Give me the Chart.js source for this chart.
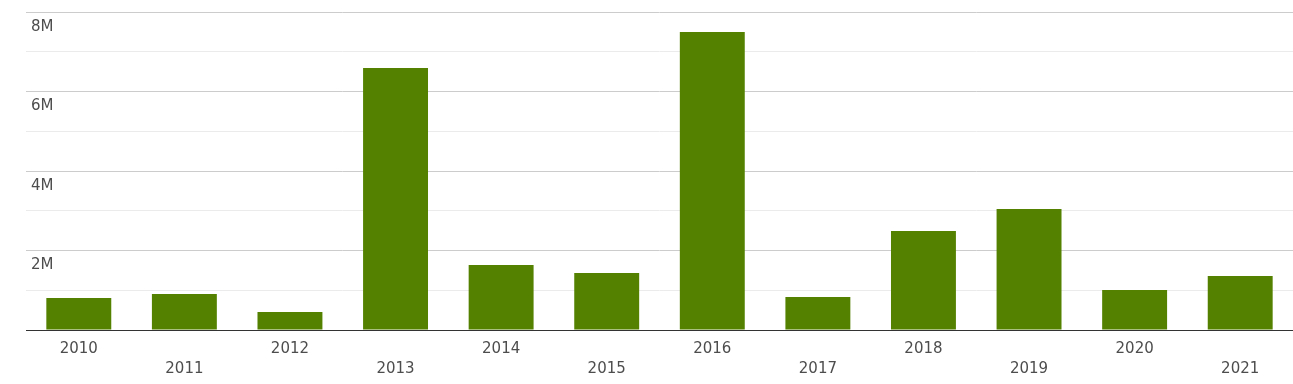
<!DOCTYPE html>
<html>
<head>
<meta charset="utf-8">
<script src="https://cdn.jsdelivr.net/npm/chart.js@4/dist/chart.umd.min.js"></script>
<style>
html,body{margin:0;padding:0;background:#fff;}
#wrap{width:1293px;height:384px;position:relative;}
</style>
</head>
<body>
<div id="wrap"><canvas id="c"></canvas></div>
<script>
const years = ['2010','2011','2012','2013','2014','2015','2016','2017','2018','2019','2020','2021'];
const values = [805000, 906000, 453000, 6590000, 1635000, 1434000, 7497000, 830000, 2490000, 3044000, 1006000, 1358000];
const yTickLabels = {2000000:'2M', 4000000:'4M', 6000000:'6M', 8000000:'8M'};

const labels = years.map((y, i) => i % 2 === 0 ? [y] : ['', y]);

new Chart(document.getElementById('c'), {
  type: 'bar',
  data: {
    labels: labels,
    datasets: [{
      data: values,
      backgroundColor: '#548200',
      borderWidth: 0,
      barPercentage: 0.615,
      categoryPercentage: 1.0
    }]
  },
  options: {
    responsive: true,
    maintainAspectRatio: false,
    animation: false,
    layout: { padding: { left: 16, top: 12, right: 0, bottom: -4 } },
    plugins: { legend: { display: false }, tooltip: { enabled: false } },
    scales: {
      x: {
        grid: { display: false, drawTicks: false },
        border: { display: true, color: '#333', width: 1 },
        ticks: {
          color: '#4d4d4d',
          font: { family: 'DejaVu Sans', size: 15, lineHeight: '20px' },
          padding: 9,
          maxRotation: 0,
          autoSkip: false
        }
      },
      y: {
        min: 0,
        max: 8000000,
        border: { display: false },
        grid: {
          drawTicks: false,
          color: ctx => (ctx.tick && ctx.tick.value % 2000000 === 0) ? '#cccccc' : '#ebebeb',
          lineWidth: 1
        },
        ticks: {
          stepSize: 1000000,
          mirror: true,
          padding: 5,
          labelOffset: 15,
          color: '#4d4d4d',
          font: { family: 'DejaVu Sans', size: 15, lineHeight: 0.8 },
          callback: v => yTickLabels[v] || ''
        }
      }
    }
  }
});
</script>
</body>
</html>
